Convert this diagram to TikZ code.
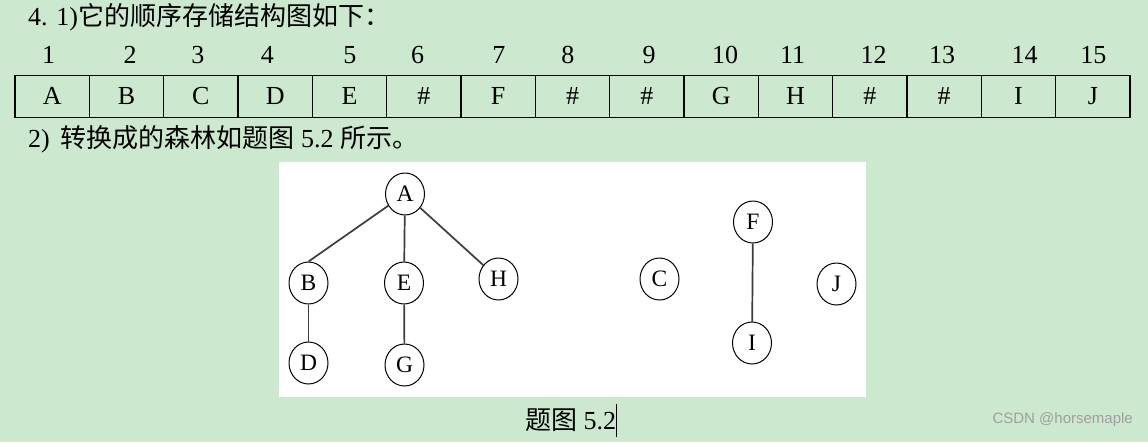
\documentclass[tikz,border=0pt]{standalone}
\usepackage{fontspec}
\setmainfont{Liberation Serif}
\newfontfamily\cjk{Noto Sans CJK SC}
\newfontfamily\markfont{Liberation Sans}
\usetikzlibrary{shapes.geometric}
\definecolor{PageGreen}{RGB}{204, 232, 207}
\definecolor{EdgeGray}{RGB}{60, 60, 60}
\definecolor{MarkGray}{RGB}{160, 160, 160}
\newcommand{\lw}{1.3pt}
\newcommand{\bodysize}{\fontsize{26}{30}\selectfont}

\begin{document}
\begin{tikzpicture}[x=1pt, y=-1pt,
  cell/.style={draw, line width=\lw, minimum width=74.33pt, minimum height=42pt, inner sep=0pt, font=\bodysize},
  index/.style={inner sep=0pt, font=\bodysize},
  line/.style={inner sep=0pt, anchor=west, font=\bodysize},
  treenode/.style={ellipse, draw, line width=1pt, fill=white, minimum width=39pt, minimum height=42pt, inner sep=0pt, font=\fontsize{23.5}{26}\selectfont},
  branch/.style={line width=1.7pt, draw=EdgeGray}]
  \fill[PageGreen] (0,0) rectangle (1148,442);
  \useasboundingbox (0,0) rectangle (1148,442);

  % heading lines
  \node[line] (head) at (28,17)  {4. 1){\cjk 它的顺序存储结构图如下：}};
  \node[line] (sub)  at (28,139) {2) \,{\cjk 转换成的森林如题图} 5.2 {\cjk 所示。}};

  % sequential storage
  \node[index] (n1)  at (48.7,55)   {1};
  \node[index] (n2)  at (130,55)    {2};
  \node[index] (n3)  at (197.8,55)  {3};
  \node[index] (n4)  at (267.4,55)  {4};
  \node[index] (n5)  at (349.8,55)  {5};
  \node[index] (n6)  at (417.6,55)  {6};
  \node[index] (n7)  at (498.9,55)  {7};
  \node[index] (n8)  at (567.8,55)  {8};
  \node[index] (n9)  at (649,55)    {9};
  \node[index] (n10) at (725,55)    {10};
  \node[index] (n11) at (792.7,55)  {11};
  \node[index] (n12) at (873.6,55)  {12};
  \node[index] (n13) at (942,55)    {13};
  \node[index] (n14) at (1024.5,55) {14};
  \node[index] (n15) at (1093.4,55) {15};

  \node[cell] (c1)  at (52.17,96.3)   {A};
  \node[cell] (c2)  at (126.5,96.3)   {B};
  \node[cell] (c3)  at (200.83,96.3)  {C};
  \node[cell] (c4)  at (275.17,96.3)  {D};
  \node[cell] (c5)  at (349.5,96.3)   {E};
  \node[cell] (c6)  at (423.83,96.3)  {\#};
  \node[cell] (c7)  at (498.17,96.3)  {F};
  \node[cell] (c8)  at (572.5,96.3)   {\#};
  \node[cell] (c9)  at (646.83,96.3)  {\#};
  \node[cell] (c10) at (721.17,96.3)  {G};
  \node[cell] (c11) at (795.5,96.3)   {H};
  \node[cell] (c12) at (869.83,96.3)  {\#};
  \node[cell] (c13) at (944.17,96.3)  {\#};
  \node[cell] (c14) at (1018.5,96.3)  {I};
  \node[cell] (c15) at (1092.83,96.3) {J};

  % the forest
  \fill[white] (279,162) rectangle (866,397);
  \node[treenode] (A) at (405,194)   {A};
  \node[treenode] (B) at (308.5,283) {B};
  \node[treenode] (E) at (404,283)   {E};
  \node[treenode] (H) at (498.5,279) {H};
  \node[treenode] (D) at (308.5,363) {D};
  \node[treenode] (G) at (404.5,365) {G};
  \node[treenode] (C) at (659.5,279) {C};
  \node[treenode] (F) at (753,222)   {F};
  \node[treenode] (I) at (752,343)   {I};
  \node[treenode] (J) at (836.5,284) {J};
  \draw[branch] (A) -- (B.north);
  \draw[branch] (A) -- (E);
  \draw[branch] (A) -- (H);
  \draw[branch] (B) -- (D);
  \draw[branch] (E) -- (G);
  \draw[branch] (F) -- (I);

  \node[line] (cap) at (525,420) {{\cjk 题图} 5.2};
  \coordinate (cur) at (cap.east);
  \draw[line width=1pt] ([yshift=-17]cur) -- ([yshift=16]cur);
  \node[inner sep=0pt, anchor=east, text=MarkGray, font=\markfont\fontsize{15}{17}\selectfont] (mark) at (1133,420) {CSDN @horsemaple};
\end{tikzpicture}
\end{document}
